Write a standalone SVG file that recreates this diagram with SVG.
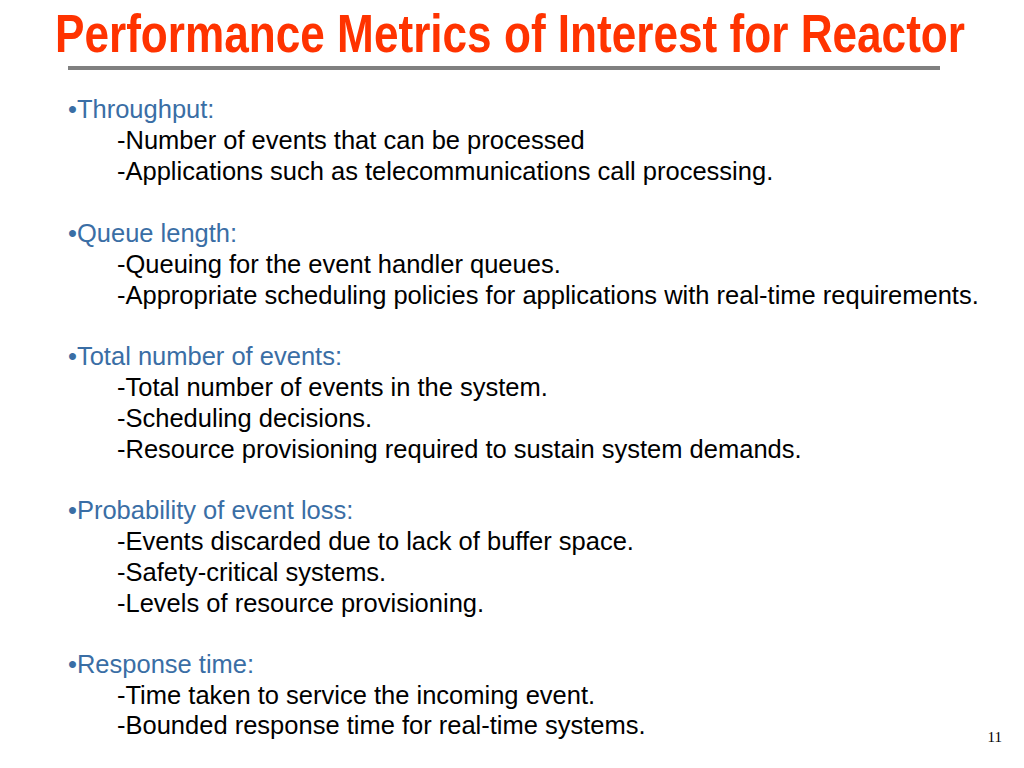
<svg xmlns="http://www.w3.org/2000/svg" width="1024" height="768" viewBox="0 0 1024 768">
<style>
.t{font-family:"Liberation Sans Narrow","Liberation Sans",Arial,sans-serif;font-weight:bold;font-size:54px;fill:#FF3300}
.h{font-family:"Liberation Sans",Arial,sans-serif;font-size:25.5px;fill:#3A6EA5}
.s{font-family:"Liberation Sans",Arial,sans-serif;font-size:25.5px;fill:#000}
</style>
<rect width="1024" height="768" fill="#fff"/>
<text class="t" x="510" y="52" text-anchor="middle" textLength="910" lengthAdjust="spacingAndGlyphs">Performance Metrics of Interest for Reactor</text>
<rect x="68" y="66" width="872" height="4" fill="#808080"/>
<g transform="translate(0,2)">
<text class="h" x="68" y="116">•Throughput:</text>
<text class="s" x="117" y="147">-Number of events that can be processed</text>
<text class="s" x="117" y="178">-Applications such as telecommunications call processing.</text>
<text class="h" x="68" y="240">•Queue length:</text>
<text class="s" x="117" y="271">-Queuing for the event handler queues.</text>
<text class="s" x="117" y="302">-Appropriate scheduling policies for applications with real-time requirements.</text>
<text class="h" x="68" y="363">•Total number of events:</text>
<text class="s" x="117" y="394">-Total number of events in the system.</text>
<text class="s" x="117" y="425">-Scheduling decisions.</text>
<text class="s" x="117" y="456">-Resource provisioning required to sustain system demands.</text>
<text class="h" x="68" y="517">•Probability of event loss:</text>
<text class="s" x="117" y="548">-Events discarded due to lack of buffer space.</text>
<text class="s" x="117" y="579">-Safety-critical systems.</text>
<text class="s" x="117" y="610">-Levels of resource provisioning.</text>
<text class="h" x="68" y="671">•Response time:</text>
<text class="s" x="117" y="702">-Time taken to service the incoming event.</text>
<text class="s" x="117" y="732">-Bounded response time for real-time systems.</text>
</g>
<text x="1002" y="742" text-anchor="end" font-family="Liberation Serif,serif" font-size="15" fill="#000">11</text>
</svg>
